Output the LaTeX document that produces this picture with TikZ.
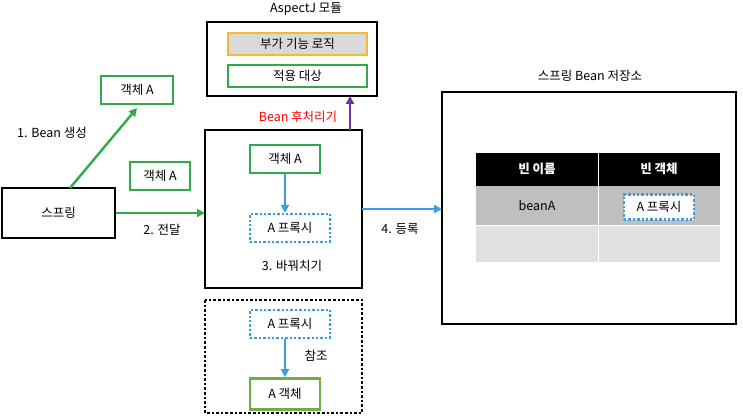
\documentclass[tikz,border=0pt]{standalone}
\usepackage{fontspec}
\setmainfont{Noto Sans CJK KR}
\usetikzlibrary{arrows.meta}
\definecolor{grn}{HTML}{2EAA4A}
\definecolor{olv}{HTML}{70AD47}
\definecolor{blu}{HTML}{3D9BE0}
\definecolor{org}{HTML}{F5B82E}
\definecolor{pur}{HTML}{7030A0}
\begin{document}
\begin{tikzpicture}[x=1pt,y=-1pt,font=\fontsize{12.5}{15}\selectfont,
 blk/.style={draw=black,line width=2.6pt},
 gbox/.style={draw=grn,line width=2.4pt,minimum height=28pt,align=center},
 pbox/.style={draw=blu,line width=2.4pt,dotted,minimum height=28pt,fill=white},
 garr/.style={draw=grn,line width=2.4pt,-{Triangle[length=8pt,width=8pt]}},
 barr/.style={draw=blu,line width=2pt,-{Triangle[length=8pt,width=8pt]}},
 lbl/.style={inner sep=0pt}]
\useasboundingbox (0,0) rectangle (743,417);
% AspectJ module
\node[lbl] (ajl) at (306,9) {AspectJ 모듈};
\draw[blk] (207,22) rectangle (377,96);
\coordinate (ajb) at (350,96);
\node[draw=org,fill=black!15,line width=2.4pt,minimum width=139pt,minimum height=22pt] (add) at (297.5,44) {부가 기능 로직};
\node[draw=grn,line width=2.4pt,minimum width=139pt,minimum height=22pt] (tgt) at (297.5,76) {적용 대상};
\node[lbl,text=red] (bp) at (298,117) {Bean 후처리기};
% main box
\draw[blk] (205,130) rectangle (362,288);
\coordinate (mbt) at (350,130);
\draw[draw=pur,line width=2.4pt,-{Triangle[length=8pt,width=8pt]}] (mbt) -- (ajb);
\node[gbox,minimum width=70pt] (oa) at (285,159) {객체 A};
\node[pbox,minimum width=80pt] (pa) at (290,228) {A 프록시};
\draw[barr] (oa) -- (oa|-pa.north);
\node[lbl] (sw) at (292,266) {3. 바꿔치기};
% dotted box
\draw[line width=2.6pt,dotted] (205,300) rectangle (362,413);
\node[pbox,minimum width=80pt] (pb) at (290,324) {A 프록시};
\node[draw=olv,line width=2.6pt,minimum width=70pt,minimum height=31pt] (ob) at (285,394) {A 객체};
\draw[barr] (pb.south-|ob) -- (ob);
\node[lbl] (ref) at (316,356) {참조};
% spring
\node[blk,minimum width=113pt,minimum height=50pt] (sp) at (58.5,213) {스프링};
\node[gbox,minimum width=72pt] (oc) at (137,90) {객체 A};
\draw[garr] (70,188) -- (137,108);
\node[lbl] (l1) at (52,133) {1. Bean 생성};
\node[gbox,minimum width=60pt] (od) at (160,176) {객체 A};
\draw[garr] (sp.east) -- (205,213);
\node[lbl] (l2) at (162,230) {2. 전달};
% store
\node[lbl] (stl) at (590,76) {스프링 Bean 저장소};
\draw[blk] (442,92) rectangle (736,324);
\draw[barr] (362,209) -- (442,209);
\node[lbl] (l4) at (400,229) {4. 등록};
\fill[black] (476,153) rectangle (720,186);
\fill[black!25] (476,186) rectangle (720,225);
\fill[black!12] (476,225) rectangle (720,262);
\draw[white,line width=1pt] (598,153) -- (598,262) (476,225) -- (720,225);
\node[lbl,text=white,font=\fontsize{12.5}{15}\selectfont\bfseries] (h1) at (537,169) {빈 이름};
\node[lbl,text=white,font=\fontsize{12.5}{15}\selectfont\bfseries] (h2) at (659,169) {빈 객체};
\node[lbl] (bn) at (537,206) {beanA};
\node[pbox,minimum width=70pt,minimum height=25pt] (pc) at (659,207) {A 프록시};
\end{tikzpicture}
\end{document}
